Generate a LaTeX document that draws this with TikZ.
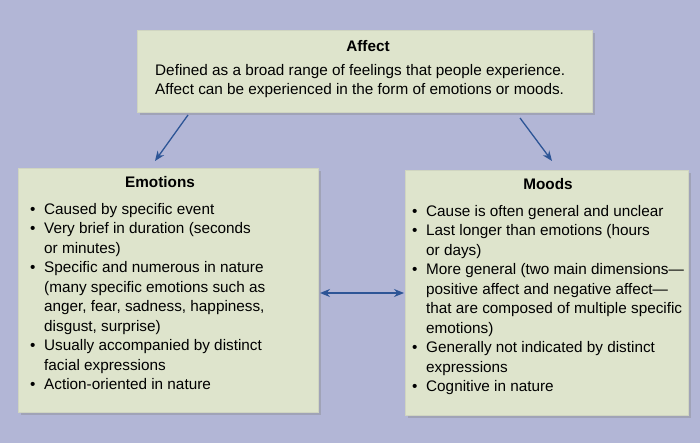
\documentclass[tikz,border=0pt]{standalone}
\usepackage{fontspec}
\setmainfont{Liberation Sans}
\usetikzlibrary{shadows,arrows.meta}
\definecolor{bg}{RGB}{178,182,214}
\definecolor{boxg}{RGB}{222,228,204}
\definecolor{arr}{RGB}{45,85,150}
\newcommand{\bl}{\makebox[14pt][l]{\textbullet}}
\newcommand{\ct}{\hspace*{14pt}}
\begin{document}
\begin{tikzpicture}[x=1pt,y=-1pt,
  card/.style={fill=boxg,draw=boxg!85!gray,drop shadow={shadow xshift=3pt,shadow yshift=-3pt,opacity=0.35},inner sep=0pt},
  conn/.style={draw=arr,line width=1.3pt,-{Stealth[length=10pt,width=8pt]}},
  txt/.style={font=\fontsize{15.3}{19.5}\selectfont,align=left,anchor=north west,inner sep=0pt}]
\fill[bg] (0,0) rectangle (700,443);
\useasboundingbox (0,0) rectangle (700,443);
\path[card] (137,30) rectangle (592,112);
\node[txt,anchor=north] (affh) at (368,40) {\textbf{Affect}};
\node[txt] (afft) at (155,64) {Defined as a broad range of feelings that people experience.\\ Affect can be experienced in the form of emotions or moods.};
\path[card] (18,168) rectangle (318,412);
\node[txt,anchor=north] (emh) at (160,176) {\textbf{Emotions}};
\node[txt] (emt) at (30,203) {\bl Caused by specific event\\
\bl Very brief in duration (seconds\\ \ct or minutes)\\
\bl Specific and numerous in nature\\ \ct (many specific emotions such as\\ \ct anger, fear, sadness, happiness,\\ \ct disgust, surprise)\\
\bl Usually accompanied by distinct\\ \ct facial expressions\\
\bl Action-oriented in nature};
\path[card] (405,170) rectangle (688,415);
\node[txt,anchor=north] (moh) at (548,178) {\textbf{Moods}};
\node[txt] (mot) at (412,205) {\bl Cause is often general and unclear\\
\bl Last longer than emotions (hours\\ \ct or days)\\
\bl More general (two main dimensions—\\ \ct positive affect and negative affect—\\ \ct that are composed of multiple specific\\ \ct emotions)\\
\bl Generally not indicated by distinct\\ \ct expressions\\
\bl Cognitive in nature};
\coordinate (a1) at (188,115); \coordinate (e1) at (155,161);
\coordinate (a2) at (520,118); \coordinate (m1) at (552,161);
\coordinate (el) at (320,293); \coordinate (mr) at (404,293);
\draw[conn] (a1) -- (e1);
\draw[conn] (a2) -- (m1);
\draw[conn,{Stealth[length=10pt,width=8pt]}-{Stealth[length=10pt,width=8pt]}] (el) -- (mr);
\end{tikzpicture}
\end{document}
